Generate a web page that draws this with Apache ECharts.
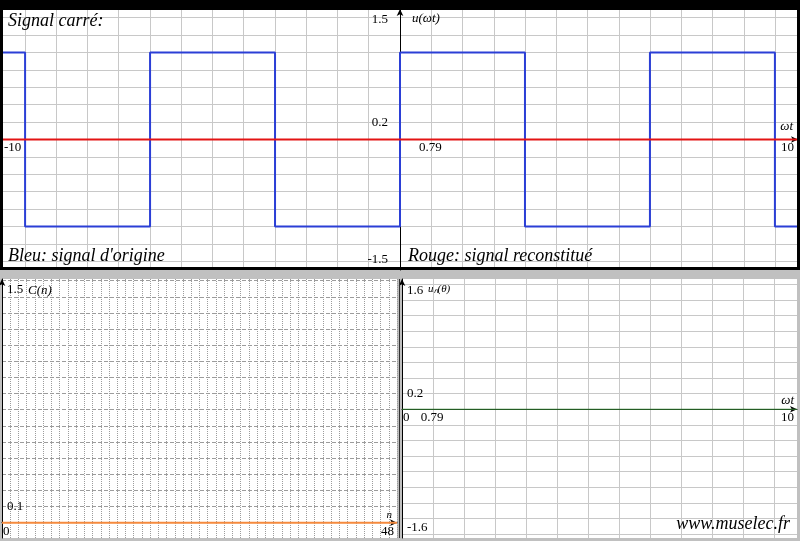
<!DOCTYPE html>
<html>
<head>
<meta charset="utf-8">
<script src="https://cdn.jsdelivr.net/npm/echarts@6/dist/echarts.min.js"></script>
<style>
html,body{margin:0;padding:0;background:#c0c0c0;}
#c{width:800px;height:541px;}
</style>
</head>
<body>
<div id="c"></div>
<script>
// ---------- data ----------
// top panel: original square signal (blue) and reconstructed signal (red)
const squareX = [-10, -9.42, -6.28, -3.14, 0, 3.14, 6.28, 9.42, 10];
const squareY = [1, -1, 1, -1, 1, -1, 1, -1, -1];
const reconX = [-10, 10];
const reconY = [0, 0];
// bottom left: spectrum C(n)
const harmonicN = [0,1,2,3,4,5,6,7,8,9,10,11,12,13,14,15,16,17,18,19,20,21,22,23,24,25,26,27,28,29,30,31,32,33,34,35,36,37,38,39,40,41,42,43,44,45,46,47,48];
const harmonicC = [0,0,0,0,0,0,0,0,0,0,0,0,0,0,0,0,0,0,0,0,0,0,0,0,0,0,0,0,0,0,0,0,0,0,0,0,0,0,0,0,0,0,0,0,0,0,0,0,0];
// bottom right: harmonic u_n(theta)
const thetaX = [0, 10];
const harmonicU = [0, 0];

// tick labels
const topXLabels = [-10, 0.79, 10];
const topYLabels = [-1.5, 0.2, 1.5];
const cXLabels = [0, 48];
const cYLabels = [0.1, 1.5];
const uXLabels = [0, 0.79, 10];
const uYLabels = [-1.6, 0.2, 1.6];

// grid-line tick steps
const angleStep = Math.PI / 4;
function ticks(step, lo, hi) {
  const out = [];
  const k0 = Math.ceil(lo / step - 1e-9), k1 = Math.floor(hi / step + 1e-9);
  for (let k = k0; k <= k1; k++) out.push(Math.round(k * step * 1e6) / 1e6);
  return out;
}
// offset that puts an axis on the other axis' zero
function zeroOffset(size, min, max) { return -size * (0 - min) / (max - min); }

// layout
const G0 = {left: 2, top: 9, width: 796, height: 261};
const G1 = {left: 2, top: 279, width: 395, height: 259};
const G2 = {left: 402, top: 279, width: 395, height: 259};
const R0 = {xmin: -10, xmax: 10, ymin: -1.5, ymax: 1.5};
const R1 = {xmin: 0, xmax: 48, ymin: -0.095, ymax: 1.51};
const R2 = {xmin: 0, xmax: 10, ymin: -1.65, ymax: 1.67};

const SERIF = 'Liberation Serif';
const lblBase = {fontFamily: SERIF, fontSize: 13, color: '#000', showMinLabel: true, showMaxLabel: true};
const gridLine = {show: true, lineStyle: {color: '#c8c8c8', width: 1, type: 'solid'}};
const axisLineBase = {onZero: false, lineStyle: {color: '#000', width: 1}, symbol: ['none', 'arrow'], symbolSize: [5, 7]};
const nameStyle = {fontFamily: SERIF, fontStyle: 'italic', fontSize: 13, color: '#000'};
const titleStyle = {fontFamily: SERIF, fontStyle: 'italic', fontWeight: 'normal', fontSize: 18, color: '#000'};
const gridBase = {show: true, backgroundColor: '#fff', borderWidth: 0, outerBoundsMode: 'none'};

const chart = echarts.init(document.getElementById('c'), null, {renderer: 'canvas'});

chart.setOption({
  animation: false,
  backgroundColor: '#c0c0c0',
  title: [
    {text: 'Signal carré:', left: 8, top: 12, padding: 0, textStyle: titleStyle},
    {text: "Bleu: signal d'origine", left: 8, top: 247, padding: 0, textStyle: titleStyle},
    {text: 'Rouge: signal reconstitué', left: 408, top: 247, padding: 0, textStyle: titleStyle},
    {text: 'www.muselec.fr', right: 10, top: 515, padding: 0, textStyle: titleStyle}
  ],
  grid: [
    Object.assign({}, gridBase, G0),
    Object.assign({}, gridBase, G1),
    Object.assign({}, gridBase, G2)
  ],
  xAxis: [
    {
      gridIndex: 0, type: 'value', min: R0.xmin, max: R0.xmax, position: 'bottom',
      offset: zeroOffset(G0.height, R0.ymin, R0.ymax),
      axisLine: axisLineBase,
      axisTick: {show: false, customValues: ticks(angleStep, R0.xmin, R0.xmax)},
      splitLine: gridLine,
      axisLabel: Object.assign({}, lblBase, {customValues: topXLabels, margin: 2, alignMinLabel: 'left', alignMaxLabel: 'right', padding: [0, 4, 0, 2]}),
      name: 'ωt', nameLocation: 'end', nameGap: -3, nameMoveOverlap: false,
      nameTextStyle: Object.assign({}, nameStyle, {align: 'right', verticalAlign: 'bottom', padding: [0, 2, 6, 0]})
    },
    {
      gridIndex: 1, type: 'value', min: R1.xmin, max: R1.xmax, position: 'bottom',
      offset: zeroOffset(G1.height, R1.ymin, R1.ymax),
      axisLine: axisLineBase,
      axisTick: {show: false, customValues: ticks(1, R1.xmin, R1.xmax)},
      splitLine: {show: true, lineStyle: {color: '#9c9c9c', width: 1, type: 'dotted'}},
      axisLabel: Object.assign({}, lblBase, {customValues: cXLabels, margin: 2, alignMinLabel: 'left', alignMaxLabel: 'right', padding: [0, 3, 0, 1]}),
      name: 'n', nameLocation: 'end', nameGap: -3, nameMoveOverlap: false,
      nameTextStyle: Object.assign({}, nameStyle, {fontSize: 11, align: 'right', verticalAlign: 'bottom', padding: [0, 2, 2, 0]})
    },
    {
      gridIndex: 2, type: 'value', min: R2.xmin, max: R2.xmax, position: 'bottom',
      offset: zeroOffset(G2.height, R2.ymin, R2.ymax),
      axisLine: axisLineBase,
      axisTick: {show: false, customValues: ticks(angleStep, R2.xmin, R2.xmax)},
      splitLine: gridLine,
      axisLabel: Object.assign({}, lblBase, {customValues: uXLabels, margin: 2, alignMinLabel: 'left', alignMaxLabel: 'right', padding: [0, 3, 0, 1]}),
      name: 'ωt', nameLocation: 'end', nameGap: -3, nameMoveOverlap: false,
      nameTextStyle: Object.assign({}, nameStyle, {align: 'right', verticalAlign: 'bottom', padding: [0, 0, 2, 0]})
    }
  ],
  yAxis: [
    {
      gridIndex: 0, type: 'value', min: R0.ymin, max: R0.ymax, position: 'left',
      offset: zeroOffset(G0.width, R0.xmin, R0.xmax),
      axisLine: axisLineBase,
      axisTick: {show: false, customValues: ticks(0.2, R0.ymin, R0.ymax)},
      splitLine: gridLine,
      axisLabel: Object.assign({}, lblBase, {customValues: topYLabels, margin: 12, verticalAlignMinLabel: 'bottom', verticalAlignMaxLabel: 'top', padding: [4, 0, 4, 0]}),
      name: 'u(ωt)', nameLocation: 'end', nameGap: -3, nameMoveOverlap: false,
      nameTextStyle: Object.assign({}, nameStyle, {align: 'left', verticalAlign: 'top', padding: [0, 0, 0, 12]})
    },
    {
      gridIndex: 1, type: 'value', min: R1.ymin, max: R1.ymax, position: 'left',
      axisLine: axisLineBase,
      axisTick: {show: false, customValues: ticks(0.1, 0, 1.5)},
      splitLine: {show: true, lineStyle: {color: '#9c9c9c', width: 1, type: 'dashed'}},
      axisLabel: Object.assign({}, lblBase, {customValues: cYLabels, inside: true, margin: 5, verticalAlignMinLabel: 'middle', verticalAlignMaxLabel: 'top', padding: [2, 0, 0, 0]}),
      name: 'C(n)', nameLocation: 'end', nameGap: -5, nameMoveOverlap: false,
      nameTextStyle: Object.assign({}, nameStyle, {align: 'left', verticalAlign: 'top', padding: [0, 0, 0, 26]})
    },
    {
      gridIndex: 2, type: 'value', min: R2.ymin, max: R2.ymax, position: 'left',
      axisLine: axisLineBase,
      axisTick: {show: false, customValues: ticks(0.2, -1.6, 1.6)},
      splitLine: gridLine,
      axisLabel: Object.assign({}, lblBase, {customValues: uYLabels, inside: true, margin: 5, verticalAlignMinLabel: 'bottom', verticalAlignMaxLabel: 'top'}),
      name: 'uₙ(θ)', nameLocation: 'end', nameGap: -5, nameMoveOverlap: false,
      nameTextStyle: Object.assign({}, nameStyle, {fontSize: 11, align: 'left', verticalAlign: 'top', padding: [0, 0, 0, 26]})
    }
  ],
  series: [
    {
      name: 'signal d\'origine', type: 'line', xAxisIndex: 0, yAxisIndex: 0, step: 'end',
      data: squareX.map((x, i) => [x, squareY[i]]),
      symbol: 'none', lineStyle: {color: '#2b3fd6', width: 2}, z: 3
    },
    {
      name: 'signal reconstitué', type: 'line', xAxisIndex: 0, yAxisIndex: 0,
      data: reconX.map((x, i) => [x, reconY[i]]),
      symbol: 'none', lineStyle: {color: '#e31414', width: 2}, z: 4
    },
    {
      name: 'C(n)', type: 'line', xAxisIndex: 1, yAxisIndex: 1,
      data: harmonicN.map((n, i) => [n, harmonicC[i]]),
      symbol: 'none', lineStyle: {color: '#f58a3e', width: 2}, z: 4
    },
    {
      name: 'un(θ)', type: 'line', xAxisIndex: 2, yAxisIndex: 2,
      data: thetaX.map((x, i) => [x, harmonicU[i]]),
      symbol: 'none', lineStyle: {color: '#2f7a2f', width: 1}, z: 4
    }
  ],
  graphic: [
    {type: 'rect', z: 100, shape: {x: 0, y: 0, width: 800, height: 10}, style: {fill: '#000'}},
    {type: 'rect', z: 100, shape: {x: 0, y: 0, width: 3, height: 270}, style: {fill: '#000'}},
    {type: 'rect', z: 100, shape: {x: 797, y: 0, width: 3, height: 270}, style: {fill: '#000'}},
    {type: 'rect', z: 100, shape: {x: 0, y: 267, width: 800, height: 3}, style: {fill: '#000'}},
    {type: 'rect', z: 100, shape: {x: 399, y: 279, width: 1, height: 259}, style: {fill: '#333'}}
  ]
});
</script>
</body>
</html>
